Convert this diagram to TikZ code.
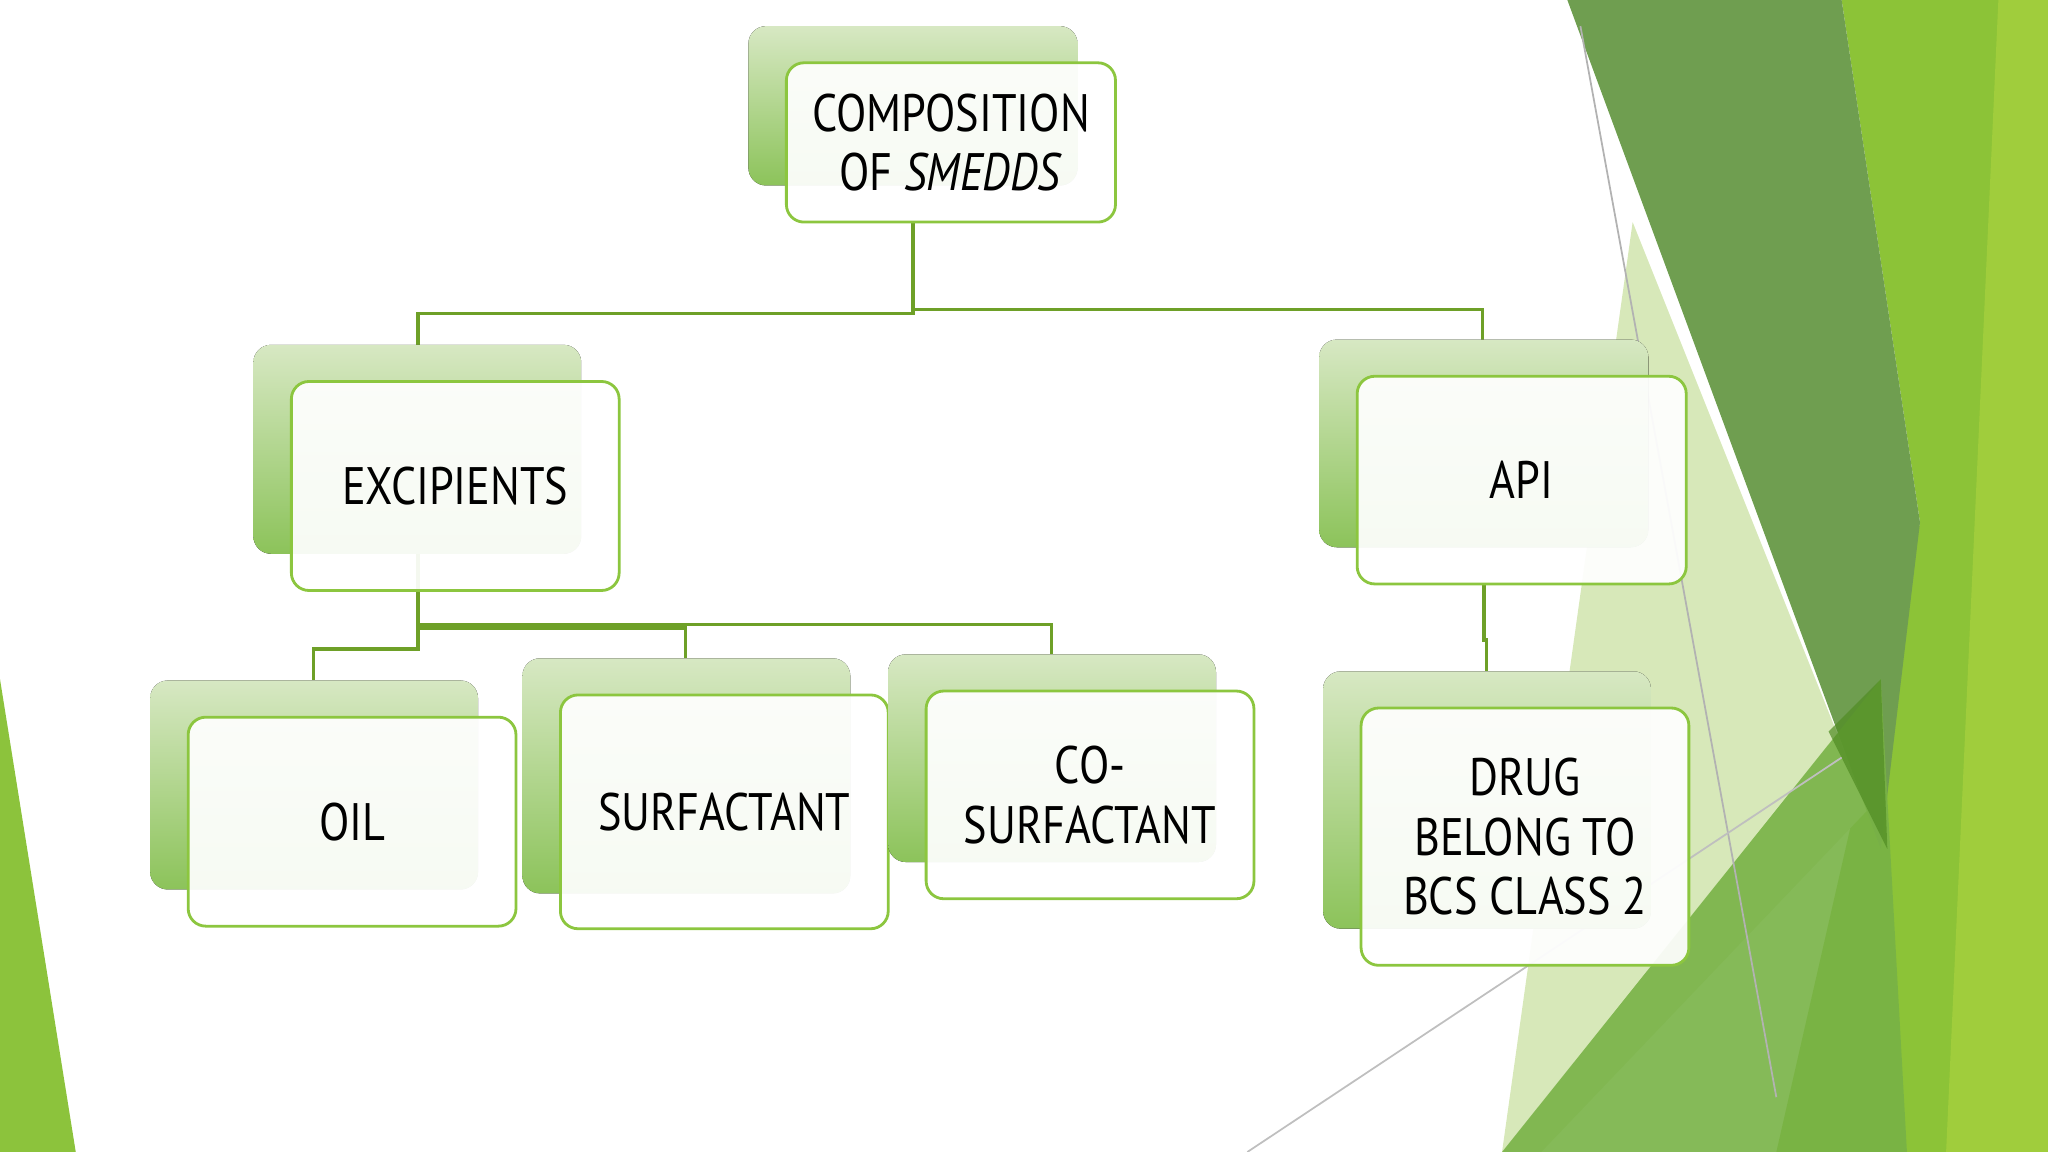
\documentclass[tikz,border=0pt]{standalone}
\usepackage{fontspec}
\setmainfont{PT Sans}[FakeStretch=0.84]
\definecolor{g1}{RGB}{140,195,60}
\definecolor{g2}{RGB}{140,195,55}
\definecolor{g3}{RGB}{160,205,60}
\definecolor{g4}{RGB}{215,232,185}
\definecolor{g5}{RGB}{111,158,80}
\definecolor{g6}{RGB}{120,178,70}
\definecolor{g7}{RGB}{80,140,35}
\definecolor{bt}{RGB}{215,232,195}
\definecolor{bb}{RGB}{140,195,90}
\definecolor{bd}{RGB}{140,198,63}
\definecolor{cn}{RGB}{110,160,40}
\begin{document}
\begin{tikzpicture}[x=0.013061cm,y=-0.013061cm,
 back/.style={rounded corners=5pt,top color=bt,bottom color=bb,draw=none},
 front/.style={rounded corners=5pt,fill=white,fill opacity=0.93,draw=bd,line width=0.8pt,text opacity=1,font=\fontsize{15}{17}\selectfont,align=center,inner sep=0pt},
 con/.style={draw=cn,line width=1pt}]
\useasboundingbox (0,0) rectangle (1568,882);
% background
\fill[g1] (0,520)--(58,882)--(0,882)--cycle;
\fill[g2] (1410,0)--(1568,0)--(1568,882)--(1360,882)--(1470,400)--cycle;
\fill[g3] (1530,0)--(1568,0)--(1568,882)--(1490,882)--cycle;
\fill[g4] (1250,170)--(1430,620)--(1180,882)--(1150,882)--cycle;
\fill[g5] (1200,0)--(1410,0)--(1470,400)--(1440,650)--cycle;
\fill[g6,opacity=0.9] (1150,882)--(1440,520)--(1460,882)--cycle;
\fill[g7,opacity=0.7] (1400,560)--(1440,520)--(1445,650)--cycle;
\draw[gray!60,line width=0.5pt] (1210,20)--(1360,840);
\draw[gray!50,line width=0.5pt] (955,882)--(1410,580);
% connectors
\coordinate (t) at (699,169); \coordinate (t1) at (699,240); \coordinate (t2) at (699,237);
\draw[con] (t)--(t1)--(320,240)--(320,264);
\draw[con] (t2)--(1135,237)--(1135,260);
\draw[con] (320,424)--(320,497)--(240,497)--(240,521);
\draw[con] (320,481)--(525,481)--(525,504);
\draw[con] (320,478)--(805,478)--(805,501);
\draw[con] (1136,446)--(1136,490)--(1138,490)--(1138,514);
% boxes
\fill[back] (573,20) rectangle (825,142);
\node[front,minimum width=3.291cm,minimum height=1.593cm,anchor=north west] (top) at (601,47) {COMPOSITION\\OF \textit{SMEDDS}};
\fill[back] (194,264) rectangle (445,424);
\node[front,minimum width=3.278cm,minimum height=2.090cm,anchor=north west] (exc) at (222,291) {EXCIPIENTS};
\fill[back] (1010,260) rectangle (1262,419);
\node[front,minimum width=3.291cm,minimum height=2.077cm,anchor=north west] (api) at (1038,287) {API};
\fill[back] (115,521) rectangle (366,681);
\node[front,minimum width=3.278cm,minimum height=2.090cm,anchor=north west] (oil) at (143,548) {OIL};
\fill[back] (400,504) rectangle (651,684);
\node[front,minimum width=3.278cm,minimum height=2.338cm,anchor=north west] (sur) at (428,531) {SURFACTANT};
\fill[back] (680,501) rectangle (931,660);
\node[front,minimum width=3.278cm,minimum height=2.077cm,anchor=north west] (co) at (708,528) {CO-\\SURFACTANT};
\fill[back] (1013,514) rectangle (1264,711);
\node[front,minimum width=3.278cm,minimum height=2.573cm,anchor=north west] (drug) at (1041,541) {DRUG\\BELONG TO\\BCS CLASS 2};
\end{tikzpicture}
\end{document}
